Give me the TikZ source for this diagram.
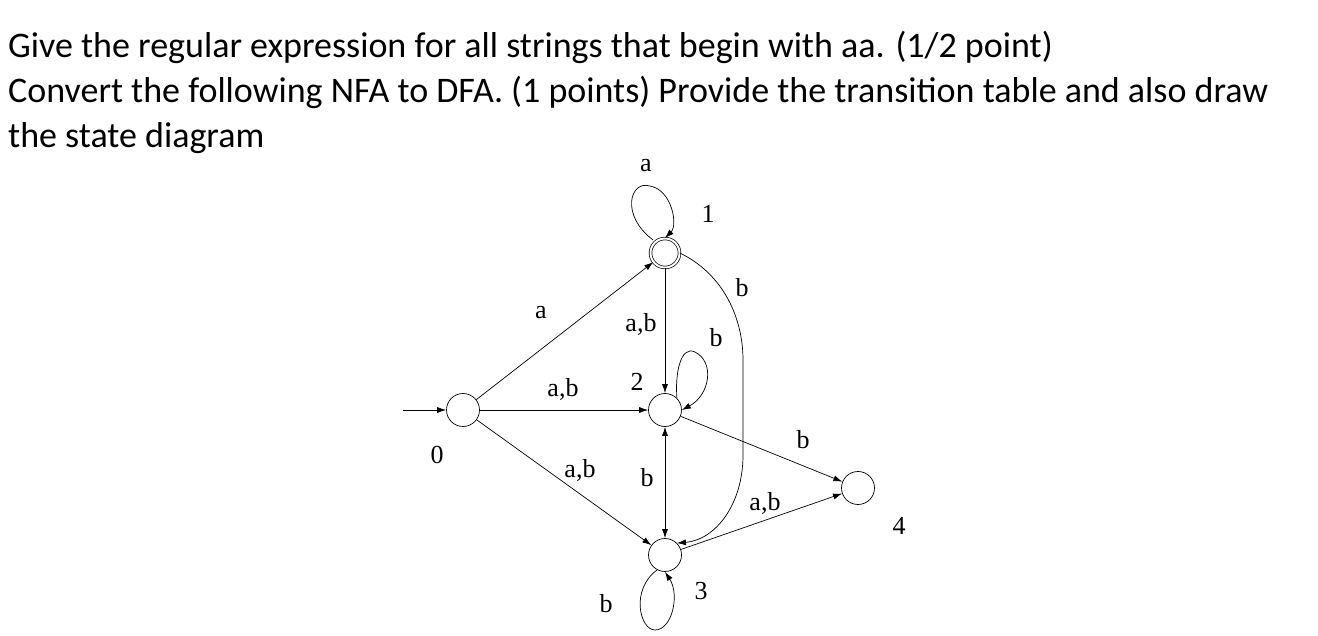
\documentclass[tikz,border=0pt]{standalone}
\usepackage{fontspec}
\setmainfont{Carlito}
\newfontfamily\lbl{Liberation Serif}
\usetikzlibrary{arrows.meta}
\begin{document}
\begin{tikzpicture}[x=1pt,y=-1pt,
 st/.style={circle,draw,minimum size=33pt,inner sep=0pt,line width=0.7pt},
 acc/.style={st,double,double distance=2pt,minimum size=29pt},
 tr/.style={draw,line width=0.7pt,-{Latex[length=9pt,width=6pt]}},
 lb/.style={font=\lbl\fontsize{26}{28}\selectfont,inner sep=0pt},
 hd/.style={font=\fontsize{36}{40}\selectfont,anchor=base west,inner sep=0pt}]
\useasboundingbox (0,0) rectangle (1318,636);
\node[hd] (t1) at (8,58) {Give the regular expression for all strings that begin with aa. (1/2 point)};
\node[hd] (t2) at (8,103) {Convert the following NFA to DFA. (1 points) Provide the transition table and also draw};
\node[hd] (t3) at (8,148) {the state diagram};
\node[st] (q0) at (463,410) {};
\node[acc] (q1) at (665,253) {};
\node[st] (q2) at (665,410) {};
\node[st] (q3) at (665,555) {};
\node[st] (q4) at (858,488) {};
\coordinate (in) at (403,410);
\draw[tr] (in) -- (q0);
\draw[tr] (q0) -- (q1);
\draw[tr] (q0) -- (q2);
\draw[tr] (q0) -- (q3);
\draw[tr] (q1) -- (q2);
\draw[tr,{Latex[length=9pt,width=6pt]}-{Latex[length=9pt,width=6pt]}] (q2) -- (q3);
\draw[tr] (q2) -- (q4);
\draw[tr] (q3) -- (q4);
\draw[tr] (q1.east) .. controls (725,275) and (743,320) .. (743,360) -- (743,455) .. controls (743,505) and (715,540) .. (q3.north east);
\draw[tr] (653,240) .. controls (620,215) and (630,180) .. (650,186) .. controls (672,190) and (678,225) .. (q1.north);
\draw[tr] (q2.north east) .. controls (675,375) and (680,345) .. (695,352) .. controls (715,362) and (710,395) .. (q2.east);
\draw[tr] (657,570) .. controls (630,590) and (640,630) .. (655,630) .. controls (672,630) and (680,595) .. (q3.south);
\node[lb] (l0) at (437,455) {0};
\node[lb] (l1) at (708,214) {1};
\node[lb] (l2) at (637,382) {2};
\node[lb] (l3) at (701,591) {3};
\node[lb] (l4) at (899,526) {4};
\node[lb] (la1) at (646,166) {a};
\node[lb] (la) at (541,313) {a};
\node[lb] (lab1) at (641,324) {a,b};
\node[lb] (lb1) at (742,288) {b};
\node[lb] (lb2) at (716,338) {b};
\node[lb] (lab2) at (563,389) {a,b};
\node[lb] (lab3) at (580,470) {a,b};
\node[lb] (lb3) at (647,478) {b};
\node[lb] (lb4) at (803,440) {b};
\node[lb] (lab4) at (765,503) {a,b};
\node[lb] (lb5) at (606,604) {b};
\end{tikzpicture}
\end{document}
